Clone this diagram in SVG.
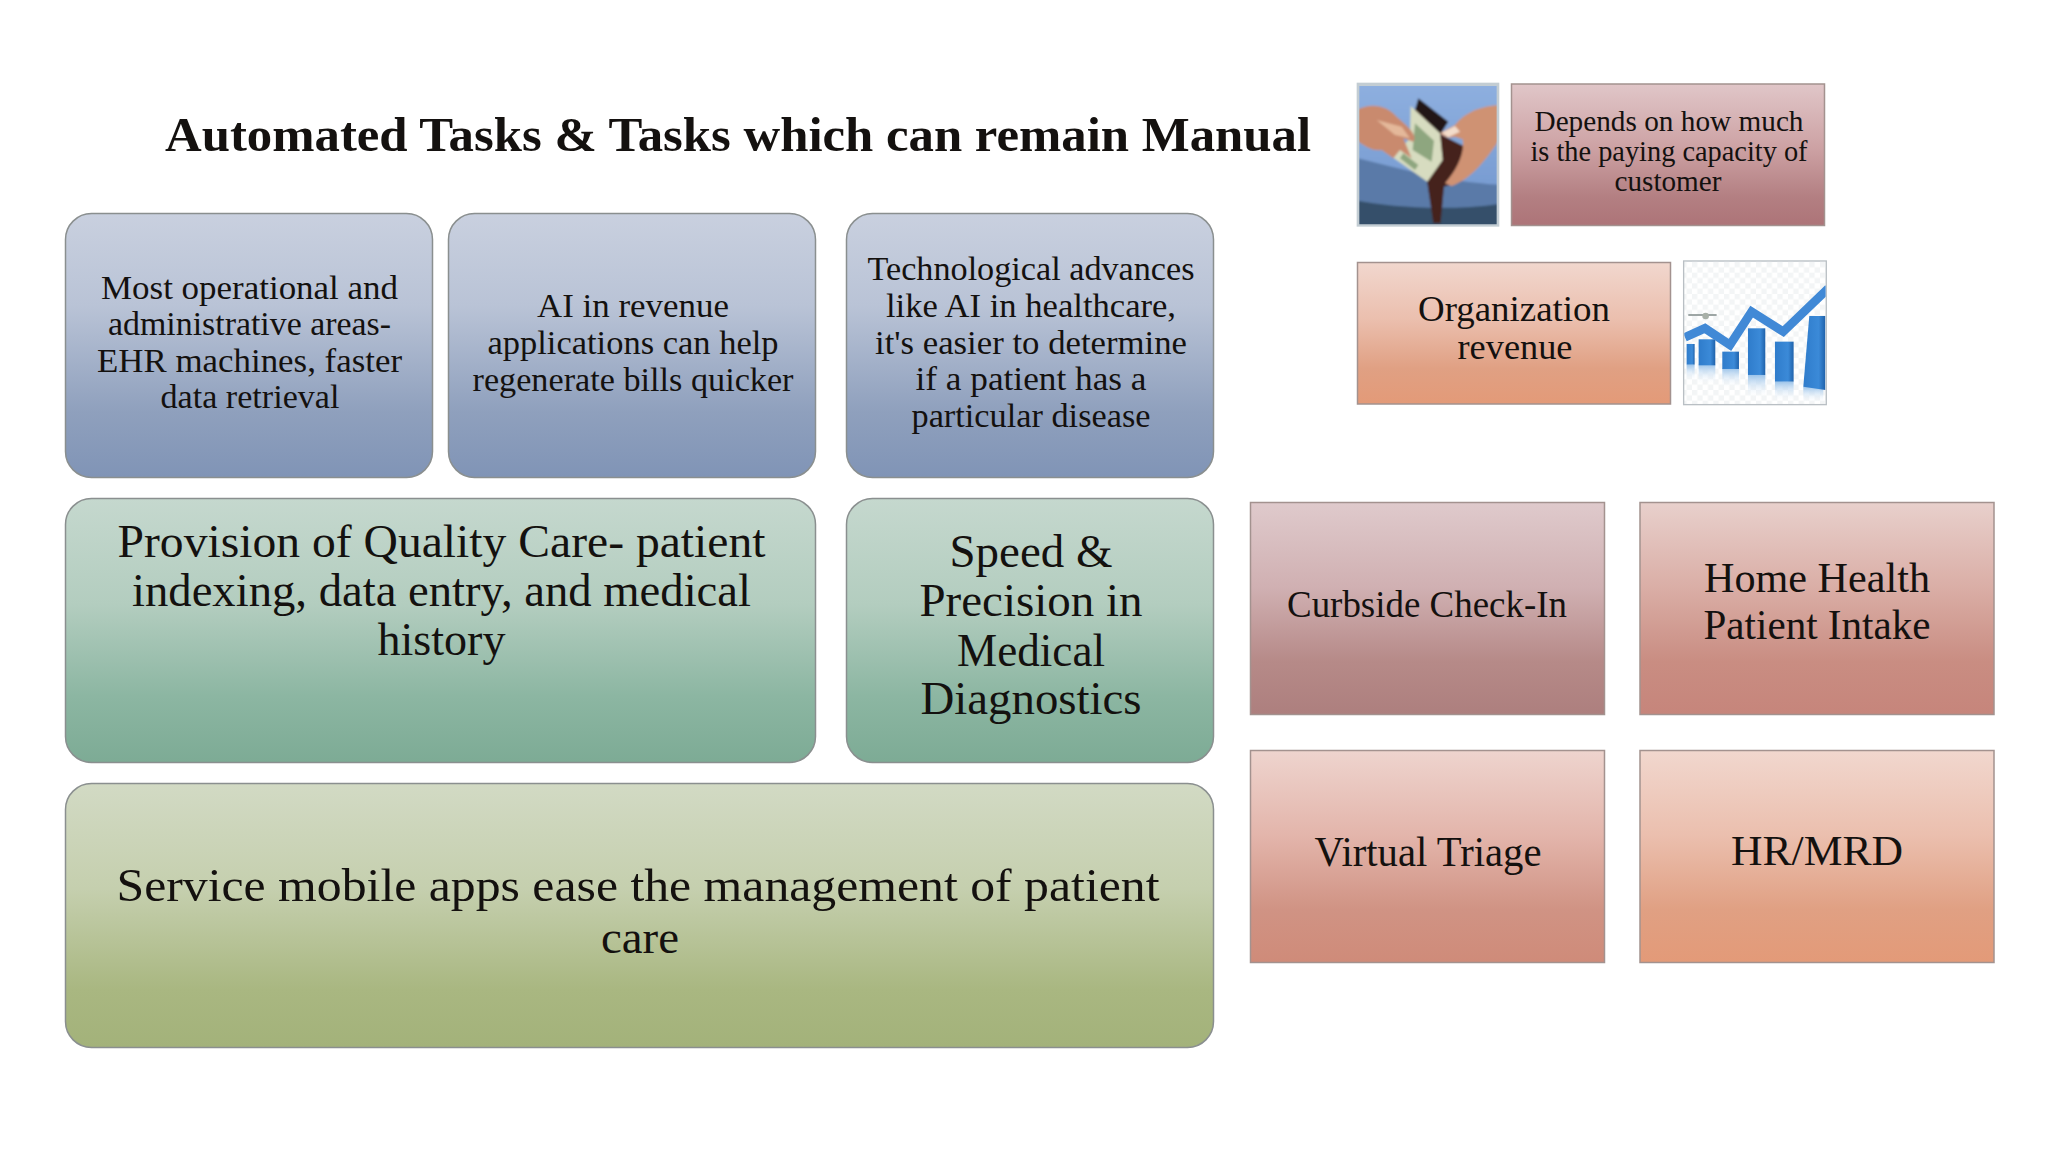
<svg xmlns="http://www.w3.org/2000/svg" width="2048" height="1152" viewBox="0 0 2048 1152">
<defs>
<linearGradient id="gBlue" x1="0" y1="0" x2="0" y2="1"><stop offset="0" stop-color="#c9d0df"/><stop offset=".35" stop-color="#b9c3d6"/><stop offset=".75" stop-color="#8fa0bd"/><stop offset="1" stop-color="#8094b6"/></linearGradient>
<linearGradient id="gGreen" x1="0" y1="0" x2="0" y2="1"><stop offset="0" stop-color="#c5d8ce"/><stop offset=".4" stop-color="#b3cdbf"/><stop offset=".75" stop-color="#8cb6a2"/><stop offset="1" stop-color="#7dab95"/></linearGradient>
<linearGradient id="gOlive" x1="0" y1="0" x2="0" y2="1"><stop offset="0" stop-color="#d2dac4"/><stop offset=".4" stop-color="#c5cfae"/><stop offset=".78" stop-color="#a9b781"/><stop offset="1" stop-color="#a3b27a"/></linearGradient>
<linearGradient id="gR1" x1="0" y1="0" x2="0" y2="1"><stop offset="0" stop-color="#dfcacc"/><stop offset=".4" stop-color="#d0b0b2"/><stop offset=".75" stop-color="#b68a88"/><stop offset="1" stop-color="#ad7f7e"/></linearGradient>
<linearGradient id="gR2" x1="0" y1="0" x2="0" y2="1"><stop offset="0" stop-color="#e8d0cc"/><stop offset=".4" stop-color="#daaea6"/><stop offset=".75" stop-color="#c98d82"/><stop offset="1" stop-color="#c6857b"/></linearGradient>
<linearGradient id="gR3" x1="0" y1="0" x2="0" y2="1"><stop offset="0" stop-color="#eed4ce"/><stop offset=".4" stop-color="#e3b5ab"/><stop offset=".75" stop-color="#d09384"/><stop offset="1" stop-color="#cf8b79"/></linearGradient>
<linearGradient id="gR4" x1="0" y1="0" x2="0" y2="1"><stop offset="0" stop-color="#f1d7ce"/><stop offset=".4" stop-color="#ebbfae"/><stop offset=".75" stop-color="#e0a083"/><stop offset="1" stop-color="#e39a78"/></linearGradient>
<linearGradient id="gR5" x1="0" y1="0" x2="0" y2="1"><stop offset="0" stop-color="#e0c6c8"/><stop offset=".45" stop-color="#cda2a4"/><stop offset=".8" stop-color="#b37f82"/><stop offset="1" stop-color="#ad7478"/></linearGradient>
<linearGradient id="gBar" x1="0" y1="0" x2="1" y2="0"><stop offset="0" stop-color="#2f7ccb"/><stop offset=".7" stop-color="#3b8ad8"/><stop offset="1" stop-color="#1f62ab"/></linearGradient>
<linearGradient id="gRef" x1="0" y1="0" x2="0" y2="1"><stop offset="0" stop-color="#9cc4ea"/><stop offset="1" stop-color="#ffffff" stop-opacity="0"/></linearGradient>
<linearGradient id="gShirt" x1="0" y1="0" x2="0" y2="1"><stop offset="0" stop-color="#8fb0e0"/><stop offset="1" stop-color="#6f94cc"/></linearGradient>
<pattern id="check" width="32" height="32" patternUnits="userSpaceOnUse"><rect width="32" height="32" fill="#fff"/><rect width="16" height="16" fill="#f3f5f6"/><rect x="16" y="16" width="16" height="16" fill="#f3f5f6"/></pattern>
<filter id="soft" x="-5%" y="-5%" width="110%" height="110%"><feGaussianBlur stdDeviation="3.500"/></filter>
<clipPath id="cWallet"><rect x="58" y="48" width="412" height="415"/></clipPath>
<clipPath id="cChart"><rect x="1033" y="575" width="424" height="427"/></clipPath>
</defs>
<style>
text{font-family:"Liberation Serif","Times New Roman",serif;fill:#14110f;text-anchor:middle}
.r{stroke:#8a8f8f;stroke-width:1.5}
.s{stroke:#a3928f;stroke-width:1.5}
.t33{font-size:34px}
.t46{font-size:47px}
.t50{font-size:47px}
.t38{font-size:38px}
.t36{font-size:35px}
.t41{font-size:42px}
.t29{font-size:29px}
.title{font-size:49px;font-weight:bold}
</style>
<rect width="2048" height="1152" fill="#ffffff"/>
<text id="title" class="title" x="738" y="151" textLength="1146" lengthAdjust="spacingAndGlyphs">Automated Tasks &amp; Tasks which can remain Manual</text>

<g id="node-operational"><rect class="r" x="65.500" y="213.500" width="367" height="264" rx="26" fill="url(#gBlue)"/>
<g class="t33"><text x="249.500" y="299" textLength="297" lengthAdjust="spacingAndGlyphs">Most operational and</text><text x="249.500" y="335" textLength="283" lengthAdjust="spacingAndGlyphs">administrative areas-</text><text x="249.500" y="372" textLength="305" lengthAdjust="spacingAndGlyphs">EHR machines, faster</text><text x="250" y="408" textLength="179" lengthAdjust="spacingAndGlyphs">data retrieval</text></g></g>

<g id="node-revenue-ai"><rect class="r" x="448.500" y="213.500" width="367" height="264" rx="26" fill="url(#gBlue)"/>
<g class="t33"><text x="633" y="317" textLength="192" lengthAdjust="spacingAndGlyphs">AI in revenue</text><text x="633" y="354" textLength="291" lengthAdjust="spacingAndGlyphs">applications can help</text><text x="633" y="391" textLength="321" lengthAdjust="spacingAndGlyphs">regenerate bills quicker</text></g></g>

<g id="node-tech"><rect class="r" x="846.500" y="213.500" width="367" height="264" rx="26" fill="url(#gBlue)"/>
<g class="t33"><text x="1031" y="280" textLength="327" lengthAdjust="spacingAndGlyphs">Technological advances</text><text x="1031" y="317" textLength="290" lengthAdjust="spacingAndGlyphs">like AI in healthcare,</text><text x="1031" y="354" textLength="312" lengthAdjust="spacingAndGlyphs">it's easier to determine</text><text x="1031" y="390" textLength="231" lengthAdjust="spacingAndGlyphs">if a patient has a</text><text x="1031" y="427" textLength="239" lengthAdjust="spacingAndGlyphs">particular disease</text></g></g>

<g id="node-quality"><rect class="r" x="65.500" y="498.500" width="750" height="264" rx="26" fill="url(#gGreen)"/>
<g class="t46"><text x="441.500" y="557" textLength="648" lengthAdjust="spacingAndGlyphs">Provision of Quality Care- patient</text><text x="441.500" y="606" textLength="619" lengthAdjust="spacingAndGlyphs">indexing, data entry, and medical</text><text x="441.500" y="655" textLength="128" lengthAdjust="spacingAndGlyphs">history</text></g></g>

<g id="node-speed"><rect class="r" x="846.500" y="498.500" width="367" height="264" rx="26" fill="url(#gGreen)"/>
<g class="t46"><text x="1031" y="567" textLength="163" lengthAdjust="spacingAndGlyphs">Speed &amp;</text><text x="1031" y="616" textLength="223" lengthAdjust="spacingAndGlyphs">Precision in</text><text x="1031" y="666" textLength="148" lengthAdjust="spacingAndGlyphs">Medical</text><text x="1031" y="714" textLength="221" lengthAdjust="spacingAndGlyphs">Diagnostics</text></g></g>

<g id="node-mobile"><rect class="r" x="65.500" y="783.500" width="1148" height="264" rx="26" fill="url(#gOlive)"/>
<g class="t50"><text x="638" y="901" textLength="1043" lengthAdjust="spacingAndGlyphs">Service mobile apps ease the management of patient</text><text x="640" y="953" textLength="78" lengthAdjust="spacingAndGlyphs">care</text></g></g>

<g id="node-curbside"><rect class="s" x="1250.500" y="502.500" width="354" height="212" fill="url(#gR1)"/>
<text class="t38" x="1427" y="617" textLength="280" lengthAdjust="spacingAndGlyphs">Curbside Check-In</text></g>

<g id="node-home"><rect class="s" x="1640" y="502.500" width="354" height="212" fill="url(#gR2)"/>
<g class="t41"><text x="1817" y="592" textLength="226" lengthAdjust="spacingAndGlyphs">Home Health</text><text x="1817" y="639" textLength="227" lengthAdjust="spacingAndGlyphs">Patient Intake</text></g></g>

<g id="node-triage"><rect class="s" x="1250.500" y="750.500" width="354" height="212" fill="url(#gR3)"/>
<text class="t41" x="1428" y="866" textLength="227" lengthAdjust="spacingAndGlyphs">Virtual Triage</text></g>

<g id="node-hr"><rect class="s" x="1640" y="750.500" width="354" height="212" fill="url(#gR4)"/>
<text class="t41" x="1817" y="865" textLength="172" lengthAdjust="spacingAndGlyphs">HR/MRD</text></g>

<g id="node-wallet" transform="translate(1340 70) scale(.3333)">
<rect x="50" y="38" width="428" height="432" fill="#c3cdd3"/>
<g clip-path="url(#cWallet)"><g filter="url(#soft)">
<rect x="40" y="30" width="450" height="450" fill="url(#gShirt)"/>
<path d="M40 262C170 290 300 335 490 345V480H40Z" fill="#5a7aa8"/>
<path d="M40 390C150 412 330 425 490 400V480H40Z" fill="#34506a"/>
<path d="M235 85L325 155L300 195L225 120Z" fill="#221817"/>
<path d="M225 115L305 195L375 230L345 340L312 350L302 460H280L262 340Z" fill="#44231a"/>
<path d="M212 108L300 190L308 270L262 335L158 262L210 205Z" fill="#d7dcc0"/>
<path d="M225 160L282 212L275 275L218 240ZM190 250L235 285L225 300L180 265Z" fill="#8ea67f"/>
<path d="M40 125C90 95 140 105 170 140C200 165 235 195 220 215L190 205L215 265L180 240L160 265L125 240C95 245 70 225 40 205Z" fill="#c98a6e"/>
<path d="M110 150L185 170L210 205L165 195Z" fill="#e4b89a"/>
<path d="M490 105C430 105 375 125 345 165L300 190Q320 208 345 200L368 208C375 250 350 300 315 340L335 348C400 325 450 255 490 190Z" fill="#cf9273"/>
<path d="M305 188L345 168L360 185L325 202Z" fill="#f3dccb"/>
</g></g>
</g>

<g id="node-depends"><rect class="s" x="1511.500" y="84" width="313" height="141.500" fill="url(#gR5)"/>
<g class="t29"><text x="1669" y="131" textLength="269" lengthAdjust="spacingAndGlyphs">Depends on how much</text><text x="1669" y="161" textLength="277" lengthAdjust="spacingAndGlyphs">is the paying capacity of</text><text x="1668" y="191" textLength="107" lengthAdjust="spacingAndGlyphs">customer</text></g></g>

<g id="node-organization"><rect class="s" x="1357.500" y="262.500" width="313" height="141.500" fill="url(#gR4)"/>
<g class="t36"><text x="1514" y="321" textLength="192" lengthAdjust="spacingAndGlyphs">Organization</text><text x="1515" y="359" textLength="115" lengthAdjust="spacingAndGlyphs">revenue</text></g></g>

<g id="node-chart" transform="translate(1340 70) scale(.3333)">
<rect x="1031" y="573" width="428" height="431" fill="url(#check)" stroke="#b9bfc4" stroke-width="4"/>
<g clip-path="url(#cChart)">
<path d="M1045 735H1130" stroke="#7f8a88" stroke-width="5" fill="none"/>
<circle cx="1097" cy="738" r="10" fill="#a8b0a8"/>
<g fill="url(#gRef)"><rect x="1040" y="884" width="24" height="50"/><rect x="1076" y="884" width="50" height="60"/><rect x="1147" y="895" width="50" height="60"/><rect x="1224" y="915" width="52" height="70"/><rect x="1305" y="935" width="56" height="60"/><rect x="1390" y="950" width="60" height="50"/></g>
<g fill="url(#gBar)"><rect x="1040" y="822" width="24" height="62"/><rect x="1076" y="808" width="50" height="78"/><rect x="1147" y="845" width="50" height="52"/><rect x="1224" y="775" width="52" height="140"/><rect x="1305" y="815" width="56" height="120"/><path d="M1408 738H1456V960L1390 950Z"/></g>
<path d="M1035 802L1095 775L1170 825L1235 725L1330 785L1465 655" fill="none" stroke="#4189d6" stroke-width="26"/>
</g>
</g>
</svg>
